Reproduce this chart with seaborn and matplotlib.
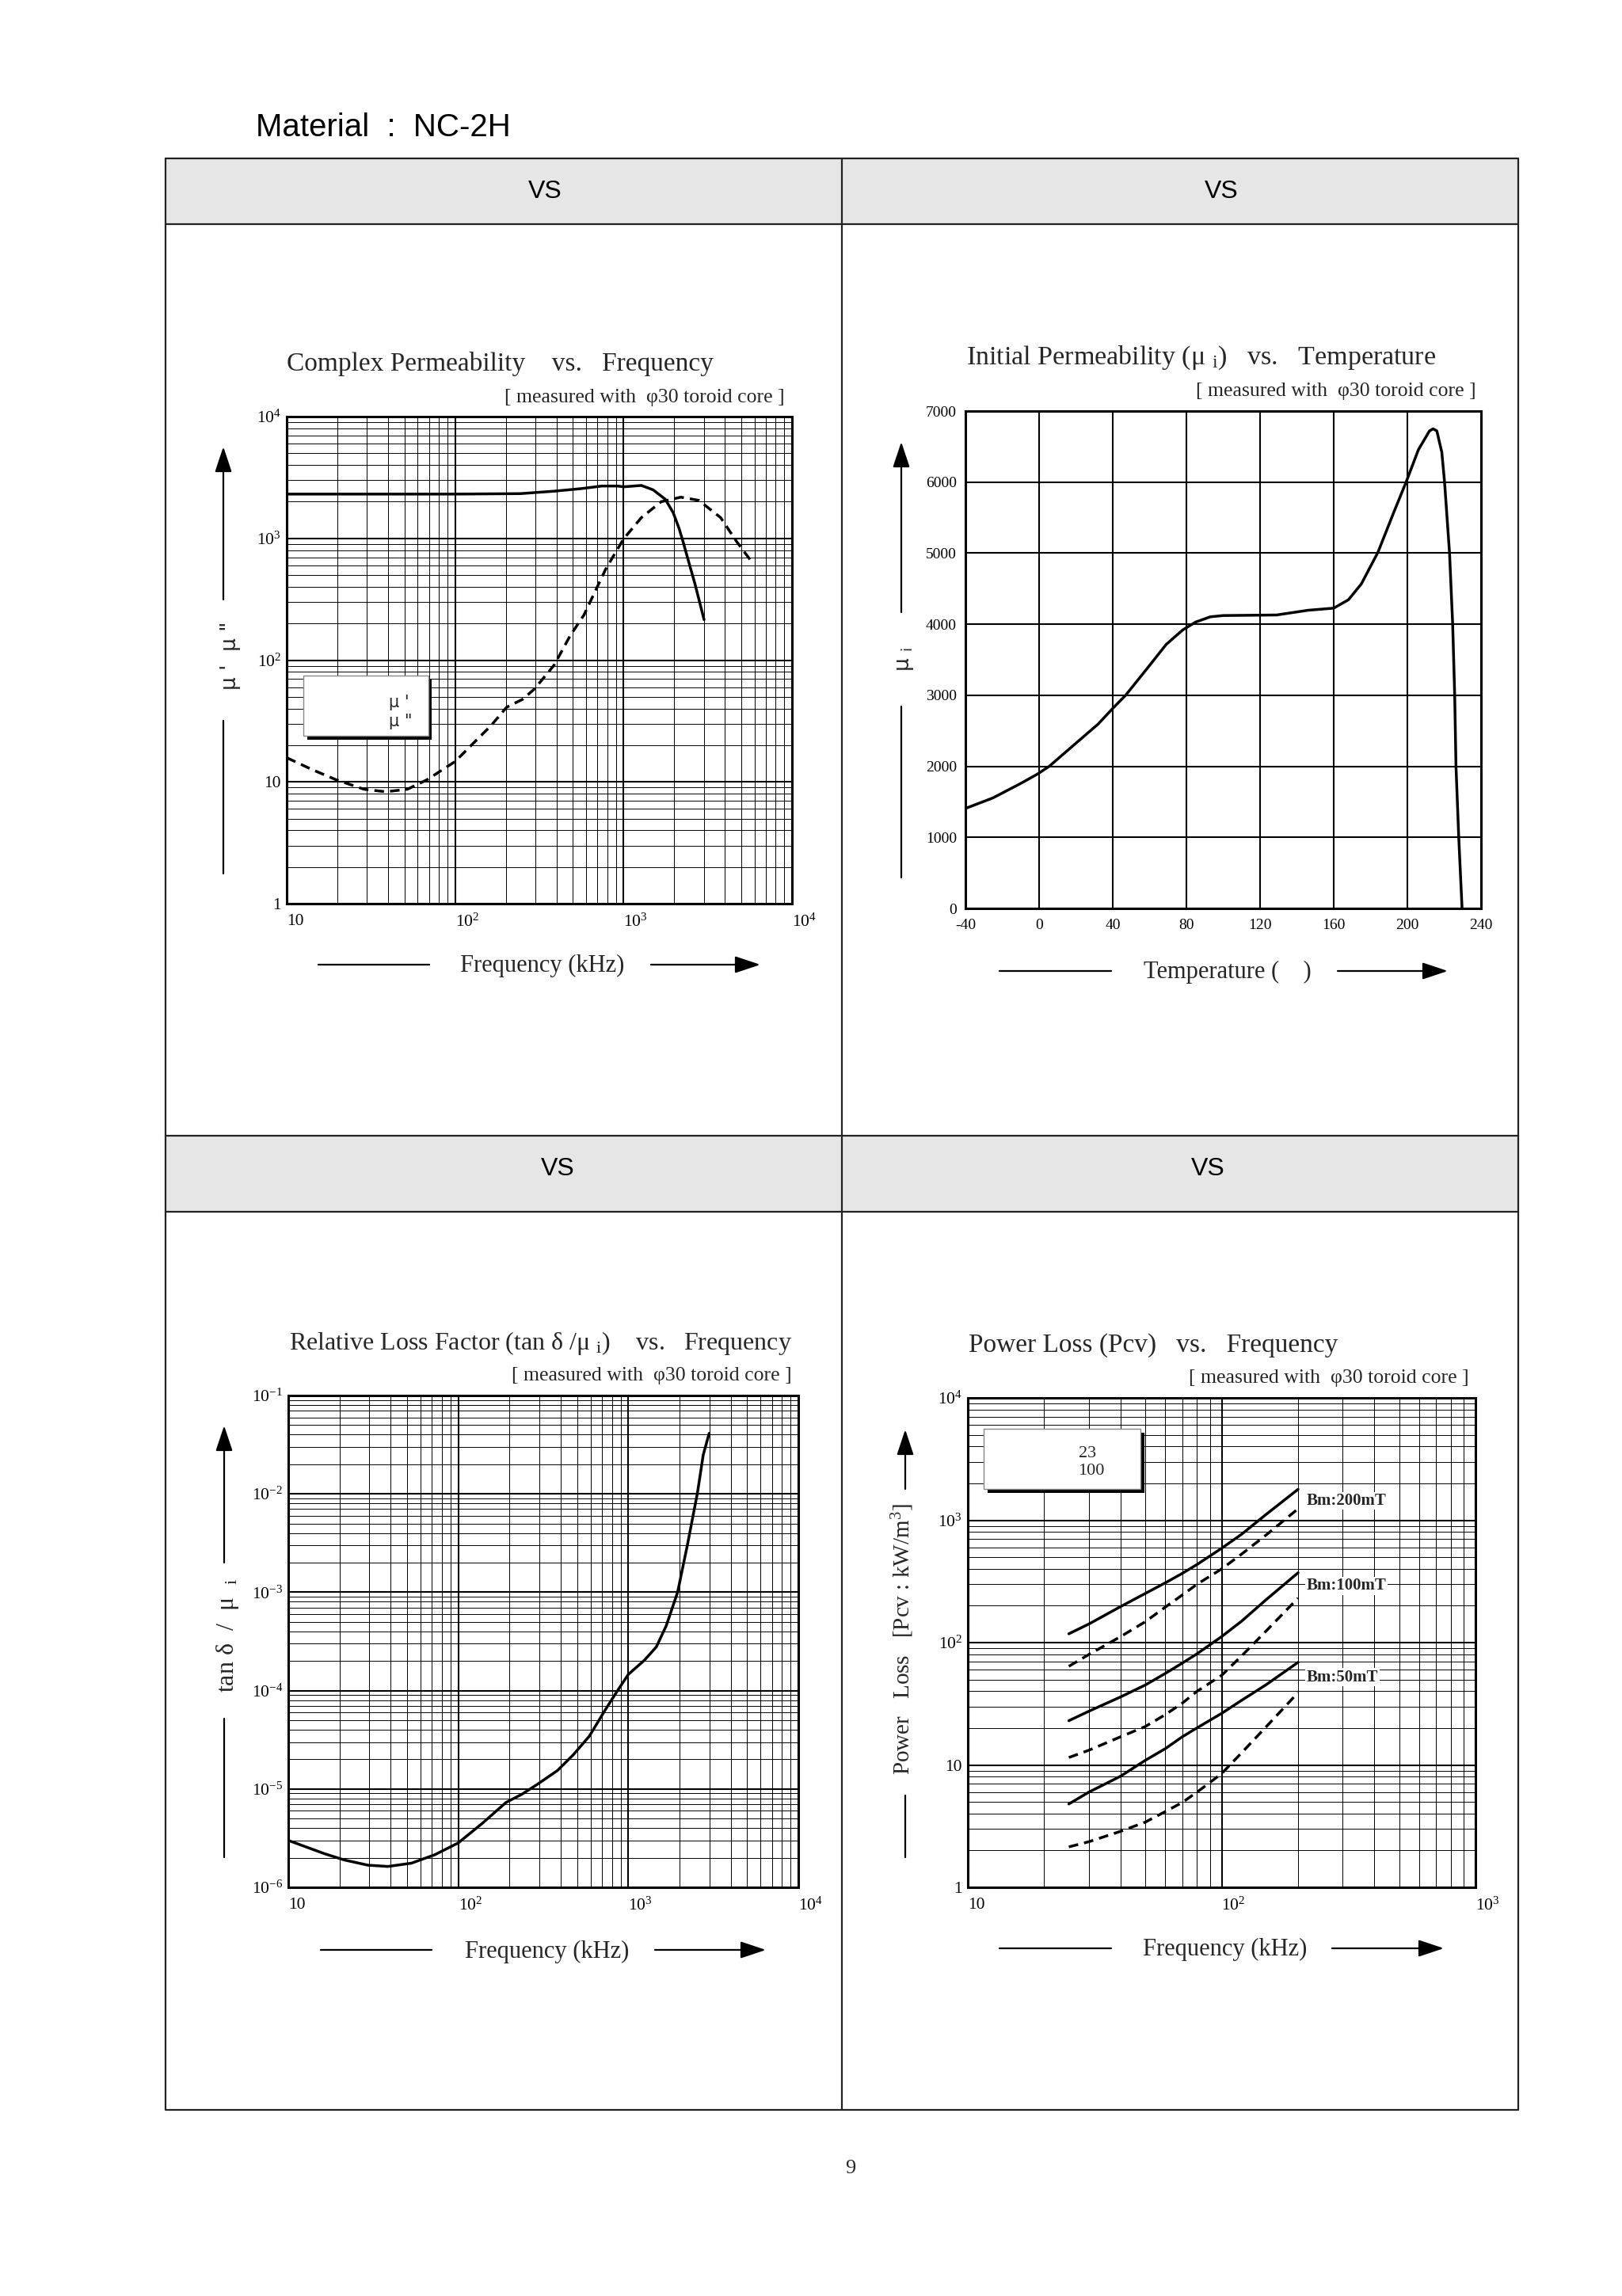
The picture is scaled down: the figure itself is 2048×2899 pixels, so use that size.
import numpy as np
import seaborn as sns
import matplotlib.pyplot as plt
from matplotlib.ticker import LogLocator, NullFormatter
from matplotlib.patches import Rectangle

# ---- complex permeability vs frequency (kHz) ----
cp_freq_real = [10, 30, 100, 244, 387, 566, 743, 923, 1000, 1276, 1500, 1766, 1968, 2134, 2254, 2445, 2654, 3006]
cp_mu_real = [2310, 2310, 2310, 2330, 2440, 2565, 2690, 2690, 2650, 2720, 2500, 2100, 1633, 1210, 942, 630, 423, 215]
cp_freq_imag = [10, 14.2, 19.7, 28.8, 38.7, 52, 68, 100, 131, 163, 202, 251, 296, 387, 481, 582, 667, 784,
                1000, 1276, 1673, 2190, 2800, 3770, 4690, 5820]
cp_mu_imag = [15.8, 12.6, 10.4, 8.7, 8.3, 8.7, 10.4, 14.7, 21.4, 28.9, 41, 47.6, 58, 91, 158, 235, 350, 560,
              990, 1480, 2000, 2180, 2050, 1480, 942, 630]

# ---- initial permeability vs temperature ----
temp_c = [-40, -25, -10, -1, 5.5, 18.7, 32, 40, 47, 60, 69, 78, 85, 93, 100, 129, 146, 160, 168, 175,
          184, 192.5, 199.3, 206, 212, 214, 216, 218.7, 220.2, 222.9, 224.6, 225.7, 226.4, 227.9, 229.7]
temp_mu_i = [1407, 1556, 1759, 1889, 2000, 2296, 2593, 2815, 3000, 3420, 3715, 3919, 4030, 4104, 4122, 4130,
             4196, 4226, 4344, 4567, 5011, 5567, 6000, 6456, 6720, 6750, 6720, 6420, 6000, 5000, 4000, 3000,
             2000, 1000, 0]

# ---- relative loss factor vs frequency ----
rlf_freq = [10, 16.3, 21.3, 29.4, 38.5, 53, 73, 100, 139, 191, 237, 293, 383, 475, 589, 729, 856, 1000,
            1245, 1462, 1670, 1950, 2230, 2550, 2760, 2990]
rlf_value = [3.0e-6, 2.2e-6, 1.9e-6, 1.68e-6, 1.63e-6, 1.76e-6, 2.15e-6, 2.83e-6, 4.5e-6, 7.3e-6, 8.85e-6,
             1.12e-5, 1.54e-5, 2.23e-5, 3.43e-5, 6.3e-5, 9.75e-5, 1.46e-4, 2.04e-4, 2.78e-4, 4.55e-4,
             1.0e-3, 3.07e-3, 1.02e-2, 2.5e-2, 4.13e-2]

# ---- power loss vs frequency (solid 23, dashed 100) ----
pl_freq = [25, 30, 40, 50, 60, 70, 80, 100, 120, 150, 200]
pl_200_23 = [118, 142, 197, 252, 308, 368, 435, 590, 770, 1120, 1790]
pl_200_100 = [64, 80, 112, 148, 195, 245, 300, 400, 530, 760, 1240]
pl_100_23 = [23, 27.5, 36, 45, 56, 68, 81, 112, 150, 225, 372]
pl_100_100 = [11.5, 13.2, 17, 20.6, 25.8, 32, 40, 54, 78, 125, 231]
pl_50_23 = [4.8, 6.0, 8.1, 10.9, 13.6, 17, 20.1, 26.4, 33.8, 45.4, 69]
pl_50_100 = [2.14, 2.36, 2.87, 3.41, 4.16, 4.94, 6.0, 8.5, 12.6, 20.6, 39]
bm_labels = ["Bm:200mT", "Bm:100mT", "Bm:50mT"]
bm_label_y = [1440, 292, 52]

sns.set_theme(style="white")
plt.rcParams["font.family"] = ["Liberation Serif", "DejaVu Sans"]
plt.rcParams["axes.unicode_minus"] = False
plt.rcParams["mathtext.fontset"] = "custom"
plt.rcParams["mathtext.rm"] = "Liberation Serif"
plt.rcParams["mathtext.it"] = "Liberation Serif:italic"
plt.rcParams["mathtext.bf"] = "Liberation Serif:bold"
plt.rcParams["mathtext.default"] = "regular"

W, H = 2048, 2899
fig = plt.figure(figsize=(W / 100, H / 100), dpi=100)
fig.patch.set_facecolor("white")


def px_axes(x0, y0, x1, y1):
    return fig.add_axes([x0 / W, 1 - y1 / H, (x1 - x0) / W, (y1 - y0) / H])


def frame(ax):
    ax.set_facecolor("white")
    ax.set_axisbelow(True)
    ax.tick_params(which="both", length=0, colors="black")
    for s in ax.spines.values():
        s.set_linewidth(2.2)
        s.set_color("black")
    ax.set_xlabel("")
    ax.set_ylabel("")


def log_axes(ax, xlim, ylim, xlabels, ylabels):
    ax.set_xscale("log")
    ax.set_yscale("log")
    ax.set_xlim(*xlim)
    ax.set_ylim(*ylim)
    xt = 10.0 ** np.arange(np.log10(xlim[0]), np.log10(xlim[1]) + 0.1)
    yt = 10.0 ** np.arange(np.log10(ylim[0]), np.log10(ylim[1]) + 0.1)
    ax.set_xticks(xt)
    ax.set_xticklabels(xlabels, ha="left", fontsize=15.5)
    ax.set_yticks(yt)
    ax.set_yticklabels(ylabels, fontsize=15.5)
    for axis in (ax.xaxis, ax.yaxis):
        axis.set_minor_locator(LogLocator(base=10, subs=np.arange(2, 10), numticks=100))
        axis.set_minor_formatter(NullFormatter())
    ax.grid(which="major", color="black", lw=1.5)
    ax.grid(which="minor", color="black", lw=0.7)
    ax.tick_params(axis="x", pad=9)
    ax.tick_params(axis="y", pad=5)
    frame(ax)


dash = (0, (3.5, 2.2))
lw = 2.5

# chart 1
ax1 = px_axes(362, 526, 1000, 1141)
sns.lineplot(x=cp_freq_real, y=cp_mu_real, ax=ax1, color="black", lw=lw, sort=False, estimator=None)
sns.lineplot(x=cp_freq_imag, y=cp_mu_imag, ax=ax1, color="black", lw=lw, linestyle=dash, sort=False,
             estimator=None)
log_axes(ax1, (10, 1e4), (1, 1e4),
         ["10", "10$^{2}$", "10$^{3}$", "10$^{4}$"],
         ["1", "10", "10$^{2}$", "10$^{3}$", "10$^{4}$"])

# chart 2
ax2 = px_axes(1219, 519, 1870, 1147)
sns.lineplot(x=temp_c, y=temp_mu_i, ax=ax2, color="black", lw=lw, sort=False, estimator=None)
ax2.set_xlim(-40, 240)
ax2.set_ylim(0, 7000)
ax2.set_xticks(np.arange(-40, 241, 40))
ax2.set_yticks(np.arange(0, 7001, 1000))
ax2.tick_params(labelsize=14)
ax2.tick_params(axis="x", pad=9)
ax2.tick_params(axis="y", pad=8)
ax2.grid(which="major", color="black", lw=1.5)
frame(ax2)

# chart 3
ax3 = px_axes(364, 1762, 1008, 2383)
sns.lineplot(x=rlf_freq, y=rlf_value, ax=ax3, color="black", lw=lw, sort=False, estimator=None)
log_axes(ax3, (10, 1e4), (1e-6, 1e-1),
         ["10", "10$^{2}$", "10$^{3}$", "10$^{4}$"],
         ["10$^{-6}$", "10$^{-5}$", "10$^{-4}$", "10$^{-3}$", "10$^{-2}$", "10$^{-1}$"])

# chart 4
ax4 = px_axes(1222, 1765, 1863, 2383)
for solid, dashed in [(pl_200_23, pl_200_100), (pl_100_23, pl_100_100), (pl_50_23, pl_50_100)]:
    sns.lineplot(x=pl_freq, y=solid, ax=ax4, color="black", lw=lw, sort=False, estimator=None)
    sns.lineplot(x=pl_freq, y=dashed, ax=ax4, color="black", lw=lw, linestyle=dash, sort=False,
                 estimator=None)
log_axes(ax4, (10, 1e3), (1, 1e4),
         ["10", "10$^{2}$", "10$^{3}$"],
         ["1", "10", "10$^{2}$", "10$^{3}$", "10$^{4}$"])
for lab, yv in zip(bm_labels, bm_label_y):
    ax4.text(216, yv, lab, fontsize=15, fontweight="bold", ha="left", va="center",
             bbox=dict(facecolor="white", edgecolor="none", pad=1.0))

# ---- page overlay (pixel coordinates) ----
ov = fig.add_axes([0, 0, 1, 1])
ov.set_xlim(0, W)
ov.set_ylim(H, 0)
ov.axis("off")
ov.set_zorder(5)
ov.patch.set_alpha(0)

narrow = ["Liberation Sans Narrow", "Liberation Sans", "DejaVu Sans"]
ov.text(323, 161, "Material  :  NC-2H", family=narrow, fontsize=29, color="black", ha="left", va="center")

# table
for (y0, y1) in [(200, 283), (1434, 1530)]:
    ov.add_patch(Rectangle((209, y0), 1917 - 209, y1 - y0, facecolor="#e6e6e6", edgecolor="none"))
tl = dict(color="#222222", lw=1.6)
ov.plot([209, 1917, 1917, 209, 209], [200, 200, 2664, 2664, 200], **tl)
for y in (283, 1434, 1530):
    ov.plot([209, 1917], [y, y], **tl)
ov.plot([1063, 1063], [200, 2664], **tl)
for x, y in [(688, 242), (1542, 242), (704, 1476), (1525, 1476)]:
    ov.text(x, y, "VS", family=narrow, fontsize=23, color="black", ha="center", va="center")

ov.text(1074, 2738, "9", fontsize=19, ha="center", va="center")

# titles
sub = "[ measured with  φ30 toroid core ]"
titles = [
    (362, 468, "Complex Permeability    vs.   Frequency", 24, 991, 508),
    (1220, 460, "Initial Permeability (μ $_{i}$)   vs.   Temperature", 24.5, 1864, 500),
    (365, 1704, "Relative Loss Factor (tan δ /μ $_{i}$)    vs.   Frequency", 23, 1000, 1743),
    (1223, 1707, "Power Loss (Pcv)   vs.   Frequency", 24, 1855, 1746),
]
for tx, ty, t, fs, sx, sy in titles:
    ov.text(tx, ty, t, fontsize=fs, ha="left", va="baseline")
    ov.text(sx, sy, sub, fontsize=18.5, ha="right", va="baseline")

arrow = dict(arrowstyle="-|>,head_length=0.9,head_width=0.3", color="black", lw=1.6,
             mutation_scale=22, shrinkA=0, shrinkB=0)

# x labels: (left line x0, x1, text center, right arrow x0, x1, line y, baseline, text)
xlabels = [
    (402, 542, 685, 822, 960, 1218, 1227, "Frequency (kHz)"),
    (1262, 1403, 1550, 1689, 1828, 1226, 1235, "Temperature (    )"),
    (405, 545, 691, 827, 967, 2462, 2472, "Frequency (kHz)"),
    (1262, 1403, 1547, 1682, 1823, 2460, 2469, "Frequency (kHz)"),
]
for a0, a1, tc, b0, b1, ly, by, t in xlabels:
    ov.plot([a0, a1], [ly, ly], color="black", lw=1.6)
    ov.annotate("", xy=(b1, ly), xytext=(b0, ly), arrowprops=arrow)
    ov.text(tc, by, t, fontsize=22, ha="center", va="baseline")

# y labels: (x, arrow tip, arrow bottom, text center, lower line top, bottom, text, family, size, text x)
ylabels = [
    (282, 564, 757, 828, 910, 1103, "μ '  μ \"", "DejaVu Sans", 19, 291),
    (1138, 558, 773, 833, 892, 1108, "μ $_{i}$", "DejaVu Sans", 19, 1143),
    (283, 1800, 1973, 2065, 2170, 2345, "tan δ  /  μ  $_{i}$", None, 23, 287),
    (1143, 1805, 1880, 2070, 2267, 2345, "Power   Loss   [Pcv : kW/m$^{3}$]", None, 21, 1140),
]
for x, tip, bot, tcy, l0, l1, t, fam, fs, tx in ylabels:
    ov.annotate("", xy=(x, tip), xytext=(x, bot), arrowprops=arrow)
    ov.plot([x, x], [l0, l1], color="black", lw=1.6)
    kw = dict(fontsize=fs, rotation=90, ha="center", va="center")
    if fam:
        kw["family"] = fam
    ov.text(tx, tcy, t, **kw)

# legend boxes
ov.add_patch(Rectangle((388, 857), 157, 77, facecolor="black", edgecolor="none"))
ov.add_patch(Rectangle((383, 853), 158, 76, facecolor="white", edgecolor="#888888", lw=1))
ov.text(491, 887, "μ '", family="DejaVu Sans", fontsize=15, ha="left", va="center")
ov.text(491, 911, "μ \"", family="DejaVu Sans", fontsize=15, ha="left", va="center")

ov.add_patch(Rectangle((1247, 1809), 198, 76, facecolor="black", edgecolor="none"))
ov.add_patch(Rectangle((1242, 1804), 198, 76, facecolor="white", edgecolor="#888888", lw=1))
ov.text(1373, 1835, "23", fontsize=16, ha="center", va="center")
ov.text(1378, 1858, "100", fontsize=16, ha="center", va="center")

fig.savefig("out.png", dpi=100, facecolor="white")
